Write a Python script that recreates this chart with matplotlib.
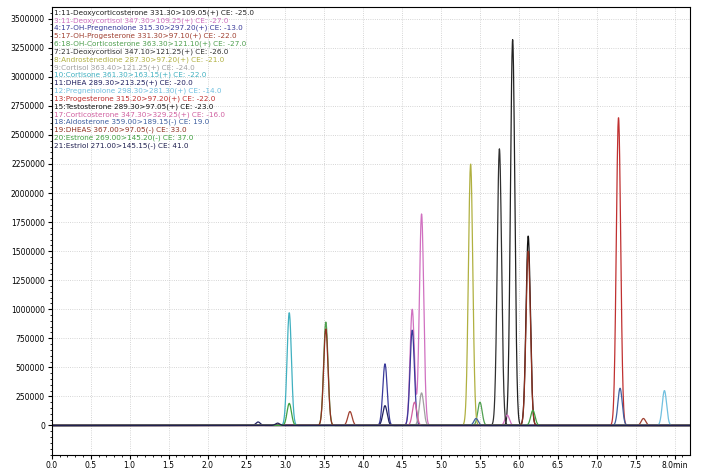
import numpy as np
import matplotlib.pyplot as plt
from matplotlib.ticker import FuncFormatter

labels = [
    "1:11-Deoxycorticosterone 331.30>109.05(+) CE: -25.0",
    "3:11-Deoxycortisol 347.30>109.25(+) CE: -27.0",
    "4:17-OH-Pregnenolone 315.30>297.20(+) CE: -13.0",
    "5:17-OH-Progesterone 331.30>97.10(+) CE: -22.0",
    "6:18-OH-Corticosterone 363.30>121.10(+) CE: -27.0",
    "7:21-Deoxycortisol 347.10>121.25(+) CE: -26.0",
    "8:Androstenedione 287.30>97.20(+) CE: -21.0",
    "9:Cortisol 363.40>121.25(+) CE: -24.0",
    "10:Cortisone 361.30>163.15(+) CE: -22.0",
    "11:DHEA 289.30>213.25(+) CE: -20.0",
    "12:Pregnenolone 298.30>281.30(+) CE: -14.0",
    "13:Progesterone 315.20>97.20(+) CE: -22.0",
    "15:Testosterone 289.30>97.05(+) CE: -23.0",
    "17:Corticosterone 347.30>329.25(+) CE: -16.0",
    "18:Aldosterone 359.00>189.15(-) CE: 19.0",
    "19:DHEAS 367.00>97.05(-) CE: 33.0",
    "20:Estrone 269.00>145.20(-) CE: 37.0",
    "21:Estriol 271.00>145.15(-) CE: 41.0",
]
colors = ["#222222", "#d070c0", "#3a3a9a", "#a04030", "#50a050", "#303030",
          "#b0b040", "#a0a0a0", "#40b0c0", "#202060", "#70c0e0", "#c03030",
          "#101010", "#d060a0", "#4060a0", "#903020", "#40a040", "#202050"]

# peaks per trace: (retention time, height)
peaks = {
    0: [(5.92, 3320000)],
    1: [(4.63, 1000000), (4.75, 1820000), (5.85, 90000)],
    2: [(4.63, 820000), (4.28, 530000)],
    3: [(3.83, 120000), (7.6, 60000)],
    4: [(3.52, 890000), (5.5, 200000)],
    5: [(5.75, 2380000)],
    6: [(5.38, 2250000)],
    7: [(4.75, 280000)],
    8: [(3.05, 970000)],
    9: [(4.28, 170000), (2.65, 30000)],
    10: [(7.87, 300000)],
    11: [(7.28, 2650000)],
    12: [(6.12, 1630000)],
    13: [(4.66, 200000)],
    14: [(7.3, 320000), (5.45, 60000)],
    15: [(3.52, 830000), (6.12, 1500000)],
    16: [(3.05, 190000), (6.18, 130000)],
    17: [(2.9, 20000)],
}
width = 0.028

t = np.linspace(0, 8.2, 3000)
fig, ax = plt.subplots(figsize=(7.1, 4.71), dpi=100)
fig.subplots_adjust(left=0.073, right=0.972, top=0.985, bottom=0.035)
for i, c in enumerate(colors):
    y = np.zeros_like(t)
    for rt, h in peaks.get(i, []):
        y += h * np.exp(-0.5 * ((t - rt) / width) ** 2)
    ax.plot(t, y, color=c, lw=0.9)

ax.set_xlim(0, 8.2)
ax.set_ylim(-250000, 3600000)
ax.set_xticks(np.arange(0, 8.01, 0.5))
ax.set_xticklabels([f"{v:.1f}" for v in np.arange(0, 7.9, 0.5)] + ["8.0min"])
ax.set_yticks(np.arange(0, 3500001, 250000))
ax.yaxis.set_major_formatter(FuncFormatter(lambda v, p: f"{int(v)}"))
ax.set_yticks(np.arange(-250000, 3600000, 50000), minor=True)
ax.set_xticks(np.arange(0, 8.2, 0.1), minor=True)
ax.tick_params(labelsize=5.5, length=3, pad=2)
ax.tick_params(which="minor", length=1.5)
ax.grid(True, ls=":", color="#c8c8c8", lw=0.6)

for k, (lab, c) in enumerate(zip(labels, colors)):
    ax.text(0.003, 0.995 - k * 0.0175, lab, transform=ax.transAxes, fontsize=5.2,
            color=c, va="top", ha="left")

fig.savefig("out.png")
